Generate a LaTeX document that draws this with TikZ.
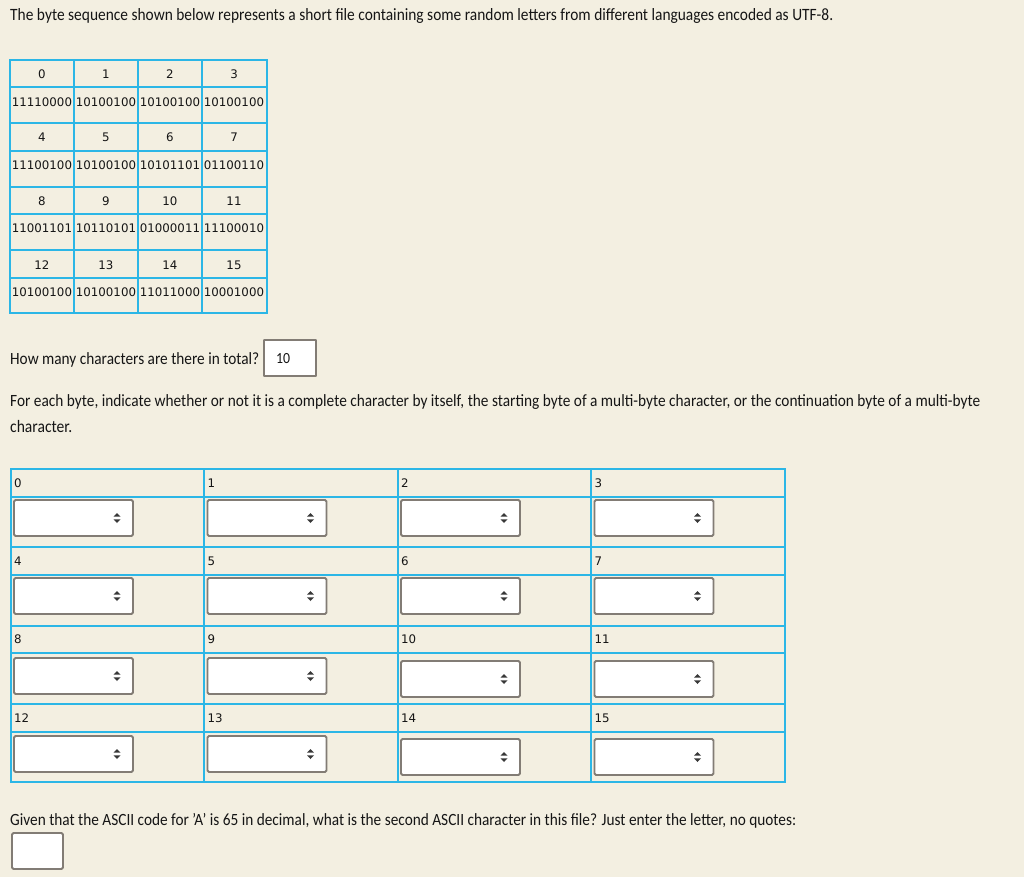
\documentclass[tikz,border=0pt]{standalone}
\usepackage{fontspec}
\usepackage{graphicx}
\setmainfont{Carlito}
\newfontfamily\tabfont{DejaVu Sans}
\usetikzlibrary{calc}
\definecolor{bg}{HTML}{F3EFE1}
\definecolor{tblue}{HTML}{2BB6E6}
\definecolor{sgray}{HTML}{827C75}
\definecolor{txt}{HTML}{151515}
\tikzset{
  gridline/.style={draw=tblue, line width=2pt},
  celltxt/.style={font=\tabfont\fontsize{11.8}{13}\selectfont, text=txt, inner sep=0pt},
  para/.style={anchor=west, inner sep=0pt, text=txt},
  selbox/.style={draw=sgray, line width=1.8pt, fill=white, rounded corners=1.5pt,
    minimum width=119pt, minimum height=36pt, inner sep=0pt},
  arrowfill/.style={fill=txt!85}
}
\newcommand\fitto[2]{\scalebox{1}[1.12]{\resizebox{#1pt}{!}{#2}}}
\begin{document}
\begin{tikzpicture}[x=1pt,y=-1pt]
\useasboundingbox (0,0) rectangle (1024,877);
\fill[bg] (0,0) rectangle (1024,877);

% title line
\node[para] (title) at (10,15.5) {\fitto{823}{The byte sequence shown below represents a short file containing some random letters from different languages encoded as UTF-8.}};

% top table
\foreach \y in {60,87,123,151,187,214,250,278,313} \draw[gridline] (10,\y) -- (267,\y);
\foreach \x in {10,74,138,202,267} \draw[gridline] (\x,60) -- (\x,313);
\draw[gridline] (10,60) rectangle (267,313);

\foreach \i/\v in {0/11110000,1/10100100,2/10100100,3/10100100,
                   4/11100100,5/10100100,6/10101101,7/01100110,
                   8/11001101,9/10110101,10/01000011,11/11100010,
                   12/10100100,13/10100100,14/11011000,15/10001000}{
  \pgfmathtruncatemacro\r{int(\i/4)}
  \pgfmathtruncatemacro\c{mod(\i,4)}
  \pgfmathsetmacro\cx{42+64*\c}
  \pgfmathsetmacro\hy{74+63.67*\r}
  \pgfmathsetmacro\by{102+63.33*\r}
  \node[celltxt] (h\i) at (\cx,\hy) {\i};
  \node[celltxt] (b\i) at (\cx,\by) {\v};
}

% total question
\node[para] (q1) at (10,359.5) {\fitto{249}{How many characters are there in total?}};
\node[selbox, minimum width=52pt, rounded corners=0.5pt] (ans1) at (290,358) {};
\node[para] (ans1txt) at (276,359) {\fitto{14}{10}};

% instructions
\node[para] (q2a) at (10,402.5) {\fitto{970}{For each byte, indicate whether or not it is a complete character by itself, the starting byte of a multi-byte character, or the continuation byte of a multi-byte}};
\node[para] (q2b) at (10,426.5) {\fitto{62}{character.}};

% lower table
\foreach \y in {469,497,547,575,626,653,704,732,782} \draw[gridline] (11,\y) -- (785,\y);
\foreach \x in {11,204,397.5,591,784.5} \draw[gridline] (\x,469) -- (\x,782);
\draw[gridline] (11,469) rectangle (784.5,782);

\foreach \i/\top in {0/499,1/499,2/499,3/499,
                     4/577,5/577,6/577,7/577,
                     8/657,9/657,10/660,11/660,
                     12/735,13/735,14/738,15/738}{
  \pgfmathtruncatemacro\r{int(\i/4)}
  \pgfmathtruncatemacro\c{mod(\i,4)}
  \pgfmathsetmacro\lx{13+193.5*\c}
  \pgfmathsetmacro\ly{483+78.3*\r}
  \pgfmathsetmacro\bx{\lx+60.5}
  \pgfmathsetmacro\bcy{\top+19}
  \pgfmathsetmacro\ax{\lx+104}
  \node[celltxt, anchor=west] (l\i) at (\lx+1,\ly) {\i};
  \node[selbox] (s\i) at (\bx,\bcy) {};
  \fill[arrowfill] (\ax-3.5,\bcy-1.3) -- (\ax+3.5,\bcy-1.3) -- (\ax,\bcy-5) -- cycle;
  \fill[arrowfill] (\ax-3.5,\bcy+1.3) -- (\ax+3.5,\bcy+1.3) -- (\ax,\bcy+5) -- cycle;
}

% final question
\node[para] (q3) at (10,820.5) {\fitto{786}{Given that the ASCII code for 'A' is 65 in decimal, what is the second ASCII character in this file? Just enter the letter, no quotes:}};
\node[selbox, minimum width=51pt] (ans3) at (37.5,851) {};
\end{tikzpicture}
\end{document}
